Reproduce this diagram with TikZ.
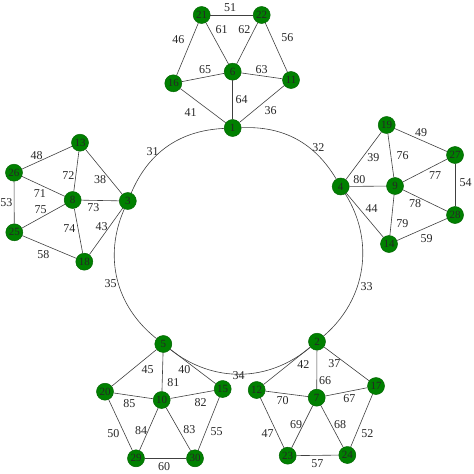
\documentclass[tikz,border=0pt]{standalone}
\usepackage{fontspec}
\setmainfont{Liberation Serif}
\begin{document}
\begin{tikzpicture}[x=1pt,y=-1pt,
  vtx/.style={circle,draw=black!60!green,fill=green!50!black,line width=0.5pt,minimum size=17pt,inner sep=0pt,font=\fontsize{11}{11}\selectfont,text=black!85},
  elab/.style={font=\fontsize{12}{12}\selectfont,inner sep=0pt,text=black!85},
  edge/.style={draw=black!75,line width=0.6pt}]
\useasboundingbox (0,0) rectangle (474,474);
% ring nodes
\node[vtx] (n1) at (232.7,128) {1};
\node[vtx] (n4) at (340.7,186.5) {4};
\node[vtx] (n2) at (317,341.7) {2};
\node[vtx] (n5) at (163.3,344) {5};
\node[vtx] (n3) at (127.8,201) {3};
% top cluster
\node[vtx] (n21) at (201.7,15) {21};
\node[vtx] (n22) at (261.7,15) {22};
\node[vtx] (n6) at (232.7,71.7) {6};
\node[vtx] (n16) at (173.3,83.3) {16};
\node[vtx] (n11) at (291,80) {11};
% left cluster
\node[vtx] (n13) at (80,142.7) {13};
\node[vtx] (n26) at (14,172.7) {26};
\node[vtx] (n8) at (72.7,200) {8};
\node[vtx] (n25) at (14.3,232.3) {25};
\node[vtx] (n18) at (84.3,261.7) {18};
% right cluster
\node[vtx] (n19) at (386.7,125) {19};
\node[vtx] (n27) at (455,155) {27};
\node[vtx] (n9) at (395,186) {9};
\node[vtx] (n28) at (455,215) {28};
\node[vtx] (n14) at (389,244) {14};
% bottom-left cluster
\node[vtx] (n20) at (105,391.7) {20};
\node[vtx] (n10) at (161.7,400) {10};
\node[vtx] (n15) at (222.7,389) {15};
\node[vtx] (n29) at (136,458.3) {29};
\node[vtx] (n30) at (195,458.3) {30};
% bottom-right cluster
\node[vtx] (n12) at (256.7,390) {12};
\node[vtx] (n7) at (316.7,397.7) {7};
\node[vtx] (n17) at (376,386) {17};
\node[vtx] (n23) at (287.7,455.7) {23};
\node[vtx] (n24) at (347.3,455) {24};
% ring arcs
\draw[edge] (n1) to[bend left=30.7] (n4);
\draw[edge] (n4) to[bend left=40.7] (n2);
\draw[edge] (n2) to[bend left=39] (n5);
\draw[edge] (n5) to[bend left=37.6] (n3);
\draw[edge] (n3) to[bend left=32.1] (n1);
% top edges
\draw[edge] (n1) -- (n16); \draw[edge] (n1) -- (n6); \draw[edge] (n1) -- (n11);
\draw[edge] (n16) -- (n6); \draw[edge] (n6) -- (n11); \draw[edge] (n16) -- (n21);
\draw[edge] (n21) -- (n6); \draw[edge] (n22) -- (n6); \draw[edge] (n21) -- (n22);
\draw[edge] (n22) -- (n11);
% left edges
\draw[edge] (n3) -- (n13); \draw[edge] (n3) -- (n8); \draw[edge] (n3) -- (n18);
\draw[edge] (n13) -- (n26); \draw[edge] (n13) -- (n8); \draw[edge] (n26) -- (n8);
\draw[edge] (n25) -- (n8); \draw[edge] (n26) -- (n25); \draw[edge] (n8) -- (n18);
\draw[edge] (n25) -- (n18);
% right edges
\draw[edge] (n4) -- (n19); \draw[edge] (n4) -- (n9); \draw[edge] (n4) -- (n14);
\draw[edge] (n19) -- (n9); \draw[edge] (n19) -- (n27); \draw[edge] (n9) -- (n27);
\draw[edge] (n9) -- (n28); \draw[edge] (n27) -- (n28); \draw[edge] (n9) -- (n14);
\draw[edge] (n14) -- (n28);
% bottom-left edges
\draw[edge] (n5) -- (n20); \draw[edge] (n5) -- (n10); \draw[edge] (n5) -- (n15);
\draw[edge] (n20) -- (n10); \draw[edge] (n10) -- (n15); \draw[edge] (n20) -- (n29);
\draw[edge] (n10) -- (n29); \draw[edge] (n10) -- (n30); \draw[edge] (n15) -- (n30);
\draw[edge] (n29) -- (n30);
% bottom-right edges
\draw[edge] (n2) -- (n12); \draw[edge] (n2) -- (n7); \draw[edge] (n2) -- (n17);
\draw[edge] (n12) -- (n7); \draw[edge] (n7) -- (n17); \draw[edge] (n12) -- (n23);
\draw[edge] (n7) -- (n23); \draw[edge] (n7) -- (n24); \draw[edge] (n17) -- (n24);
\draw[edge] (n23) -- (n24);
% labels
\node[elab] (l31) at (152.7,151.7) {31};
\node[elab] (l32) at (318.3,147.3) {32};
\node[elab] (l33) at (366.7,286.7) {33};
\node[elab] (l34) at (238.5,376) {34};
\node[elab] (l35) at (110.7,284) {35};
\node[elab] (l51) at (230,7.3) {51};
\node[elab] (l46) at (178.3,39.3) {46};
\node[elab] (l61) at (221.7,29.3) {61};
\node[elab] (l62) at (244.3,29.3) {62};
\node[elab] (l56) at (287.3,37.7) {56};
\node[elab] (l65) at (205,70) {65};
\node[elab] (l63) at (261.7,69.3) {63};
\node[elab] (l64) at (241.7,99.3) {64};
\node[elab] (l41) at (190.7,112.7) {41};
\node[elab] (l36) at (270.7,111) {36};
\node[elab] (l48) at (36.7,156) {48};
\node[elab] (l72) at (68.3,176) {72};
\node[elab] (l38) at (100,179.3) {38};
\node[elab] (l71) at (40,193.3) {71};
\node[elab] (l75) at (40.7,209.3) {75};
\node[elab] (l73) at (93.3,207.7) {73};
\node[elab] (l53) at (6.5,202.7) {53};
\node[elab] (l74) at (69.3,229) {74};
\node[elab] (l43) at (101.7,226.7) {43};
\node[elab] (l58) at (43.3,254.3) {58};
\node[elab] (l49) at (421,132.7) {49};
\node[elab] (l39) at (373.3,157.7) {39};
\node[elab] (l76) at (402.7,156) {76};
\node[elab] (l80) at (359.3,180) {80};
\node[elab] (l77) at (435,176) {77};
\node[elab] (l54) at (465.7,182.7) {54};
\node[elab] (l78) at (415,203.3) {78};
\node[elab] (l44) at (371.7,208.3) {44};
\node[elab] (l79) at (402.3,223.3) {79};
\node[elab] (l59) at (426.7,238.3) {59};
\node[elab] (l45) at (147.7,370) {45};
\node[elab] (l40) at (184.3,369.3) {40};
\node[elab] (l81) at (173.3,382.7) {81};
\node[elab] (l85) at (129.3,404) {85};
\node[elab] (l82) at (200.7,402.7) {82};
\node[elab] (l50) at (113.3,433.3) {50};
\node[elab] (l84) at (141,430.7) {84};
\node[elab] (l83) at (189.3,430) {83};
\node[elab] (l55) at (216.7,431.7) {55};
\node[elab] (l60) at (164,466.7) {60};
\node[elab] (l42) at (303.3,364.3) {42};
\node[elab] (l37) at (334.3,363.3) {37};
\node[elab] (l66) at (325,380.7) {66};
\node[elab] (l70) at (282.7,401) {70};
\node[elab] (l67) at (349.3,399) {67};
\node[elab] (l69) at (296,425) {69};
\node[elab] (l68) at (340,425) {68};
\node[elab] (l47) at (267.7,434) {47};
\node[elab] (l52) at (367.3,433.3) {52};
\node[elab] (l57) at (317.3,463.3) {57};
\end{tikzpicture}
\end{document}
